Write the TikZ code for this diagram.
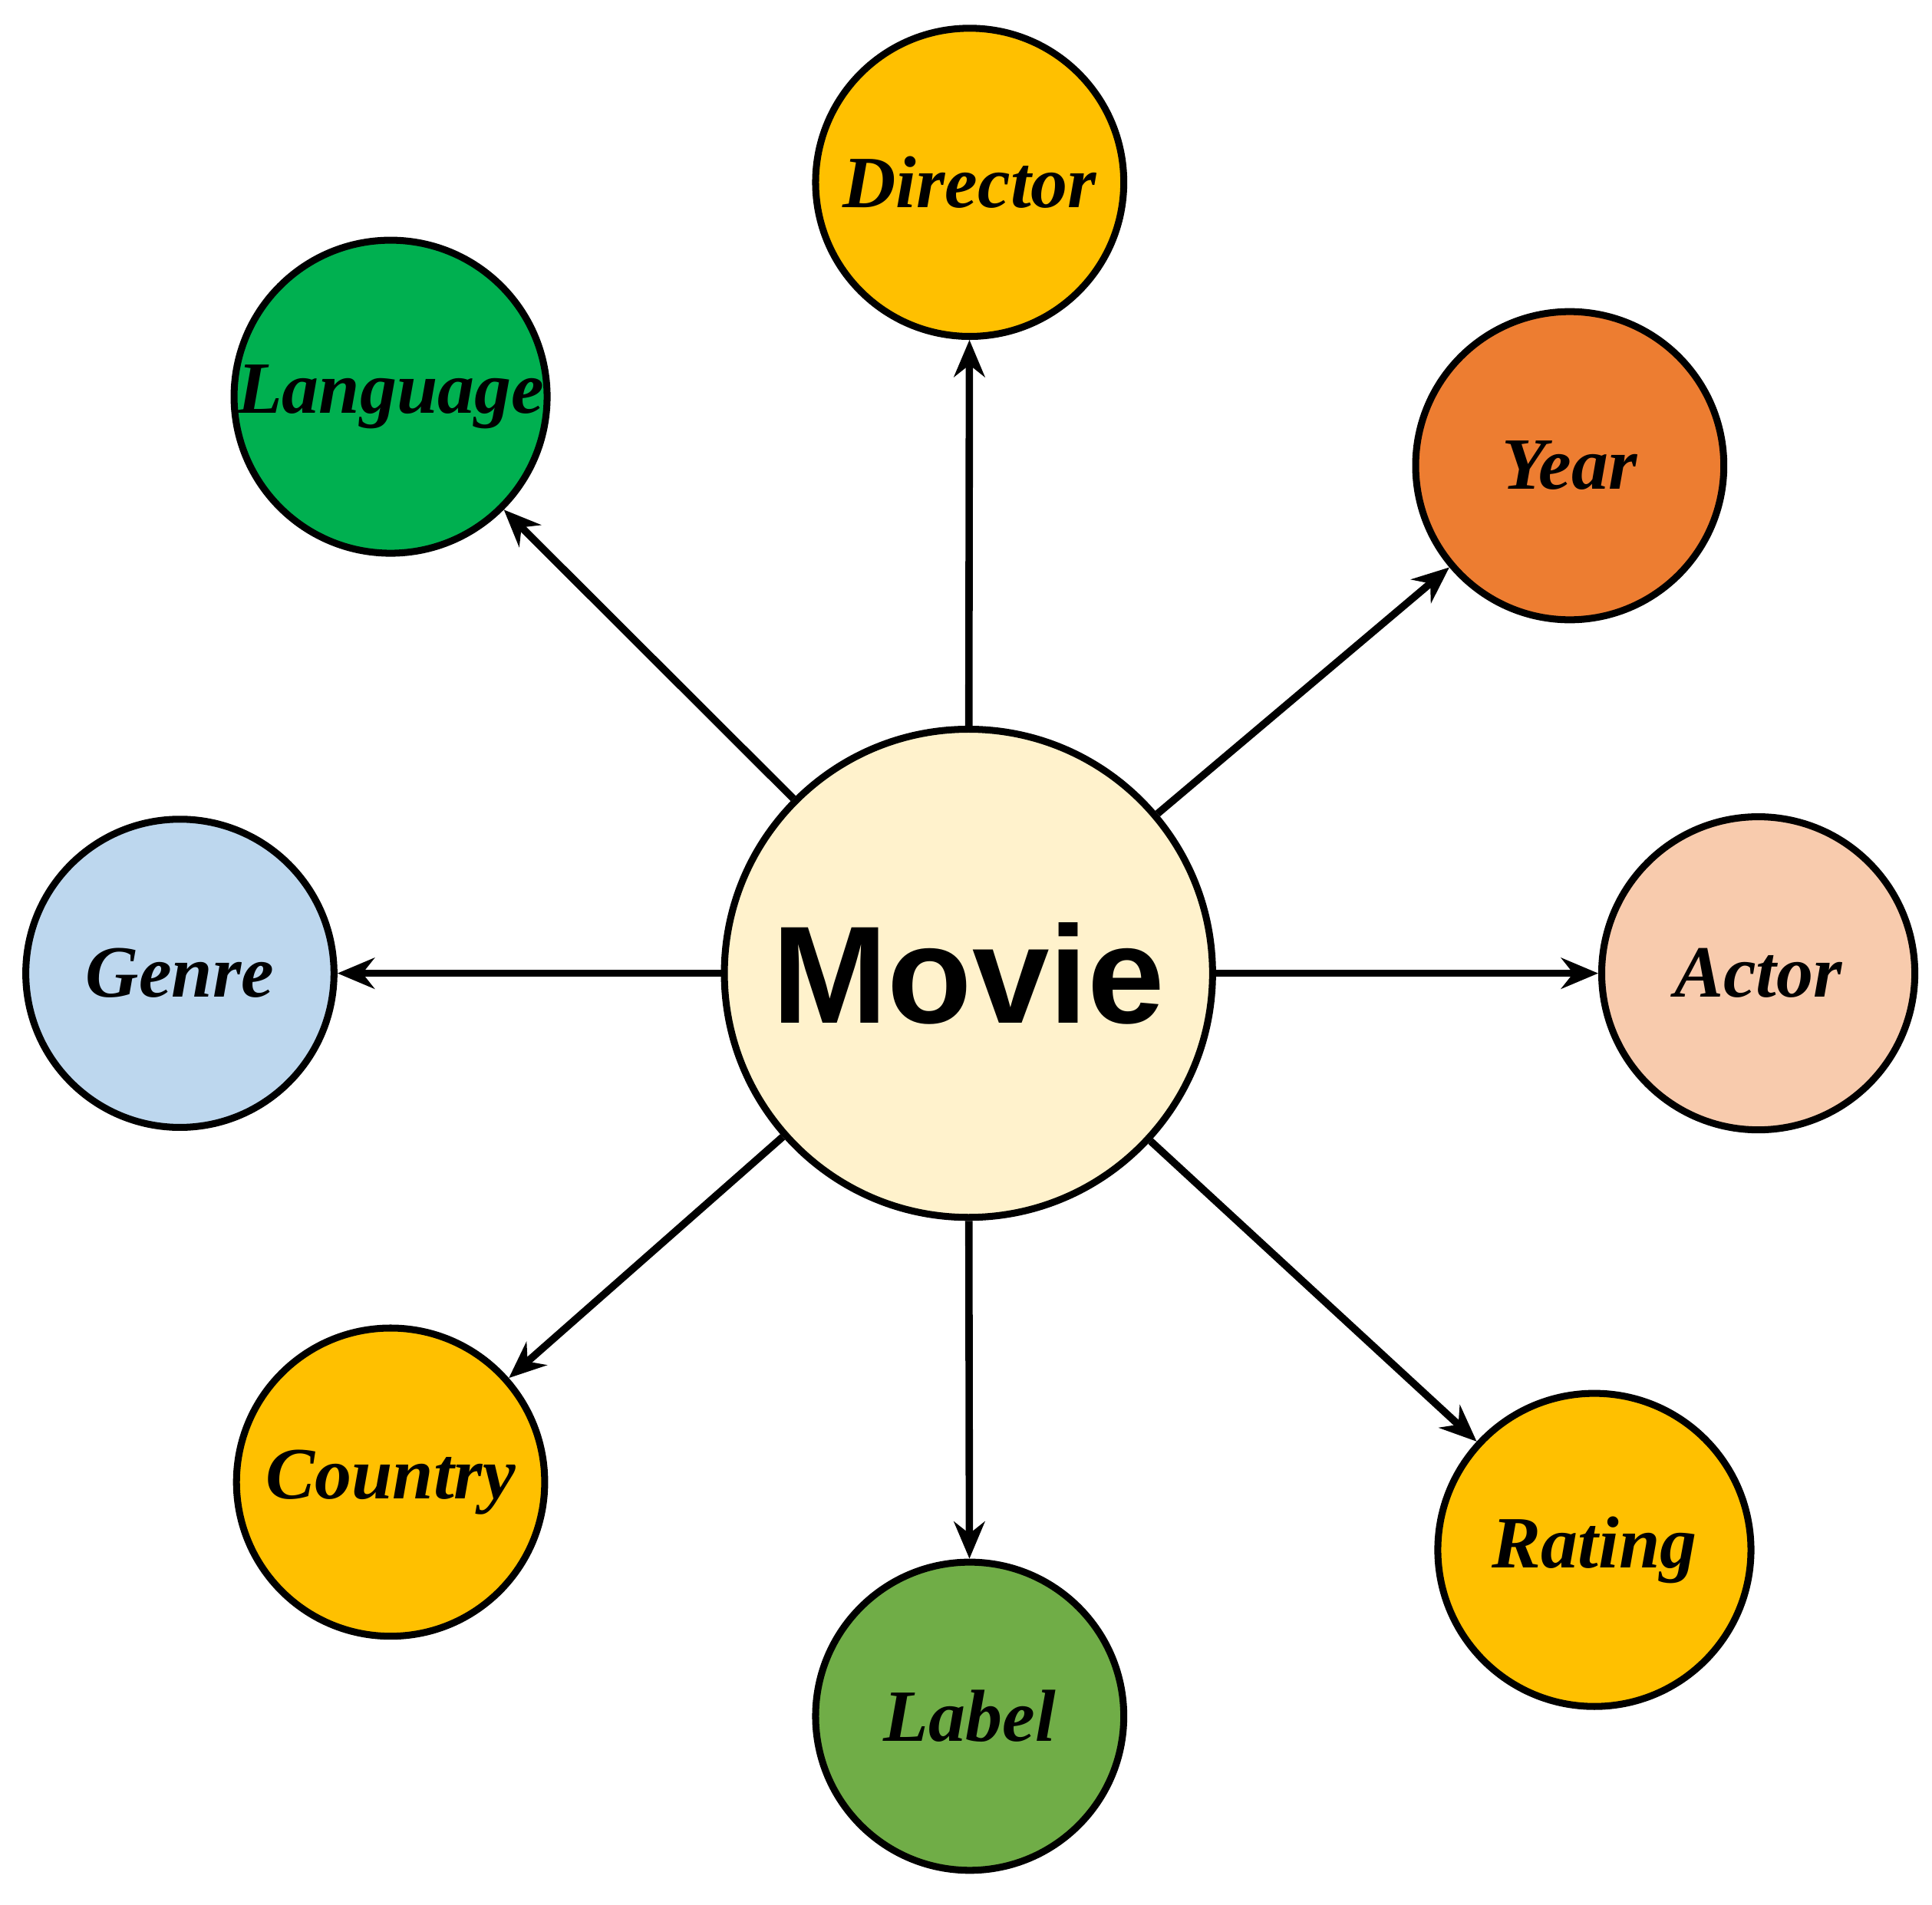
\documentclass[tikz,border=0pt]{standalone}
\usepackage{fontspec}
\setmainfont{Liberation Serif}
\newfontfamily\movfont{Liberation Sans}
\usetikzlibrary{arrows.meta}
\definecolor{cyel}{HTML}{FFC000}
\definecolor{cgrn}{HTML}{00B050}
\definecolor{corg}{HTML}{ED7D31}
\definecolor{cblu}{HTML}{BDD7EE}
\definecolor{cpch}{HTML}{F8CBAD}
\definecolor{cgr2}{HTML}{70AD47}
\definecolor{cmov}{HTML}{FFF2CC}
\begin{document}
\begin{tikzpicture}[x=0.01cm,y=-0.01cm,
  attr/.style={circle,draw=black,line width=1.6pt,minimum size=2.5cm,inner sep=0pt,
    font=\fontsize{17}{20}\selectfont\bfseries\itshape},
  arr/.style={-{Stealth[length=0.3cm,width=0.25cm]},line width=1.7pt}]
\useasboundingbox (0,0) rectangle (1568,1546);
\node[circle,draw=black,line width=1.6pt,minimum size=3.96cm,fill=cmov,
  font=\movfont\fontsize{32}{36}\selectfont\bfseries] (mov) at (786,790) {Movie};
\node[attr,fill=cyel] (dir) at (787,148) {Director};
\node[attr,fill=cgrn] (lan) at (317,322) {Language};
\node[attr,fill=corg] (yea) at (1274,378) {Year};
\node[attr,fill=cblu] (gen) at (146,790) {Genre};
\node[attr,fill=cpch,minimum size=2.54cm] (act) at (1427,790) {Actor};
\node[attr,fill=cyel] (cou) at (317,1203) {Country};
\node[attr,fill=cgr2] (lab) at (787,1393) {Label};
\node[attr,fill=cyel,minimum size=2.54cm] (rat) at (1294,1258) {Rating};
\foreach \t in {dir,lan,yea,gen,act,cou,lab,rat}
  \draw[arr] (mov) -- (\t);
\end{tikzpicture}
\end{document}
